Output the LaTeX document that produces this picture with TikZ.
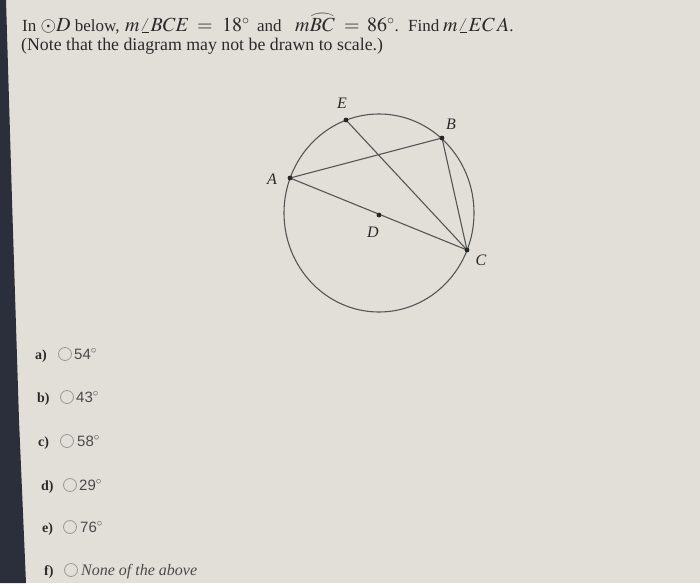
\documentclass[tikz,border=0pt]{standalone}
\usepackage{amsmath}
\usepackage{mathptmx}
\usepackage{graphicx}
\usepackage{fontspec}
\setmainfont{Liberation Serif}
\newfontfamily\optsans{Liberation Sans}
\DeclareMathSizes{17}{20}{14}{10}
\newcommand{\arcBC}{\vbox{\offinterlineskip\halign{\hfil##\hfil\cr\resizebox{1.5em}{0.3em}{$\frown$}\cr\noalign{\kern0.3pt}$BC$\cr}}}
\newcommand{\seg}[2]{\makebox[#1pt][l]{#2}}
\definecolor{paper}{HTML}{E2DFD9}
\definecolor{edge}{HTML}{2B2E3B}
\definecolor{ink}{HTML}{2A2A2A}
\definecolor{geo}{HTML}{555555}
\tikzset{
  txt/.style={anchor=base west, inner sep=0pt, text=ink},
  lbl/.style={inner sep=0pt, text=ink, font=\fontsize{16}{18}\selectfont\itshape},
  seg/.style={draw=geo, line width=1.1pt},
  radio/.style={draw=gray!80, line width=0.8pt, circle, minimum size=13pt, inner sep=0pt},
  optlbl/.style={anchor=base west, inner sep=0pt, text=ink, font=\fontsize{14}{16}\selectfont\bfseries},
  optval/.style={anchor=base west, inner sep=0pt, text=ink!85, font=\fontsize{15}{17}\selectfont\optsans},
}
\begin{document}
\begin{tikzpicture}[x=1pt,y=-1pt]
\useasboundingbox (0,0) rectangle (700,583);
\fill[paper] (0,0) rectangle (700,583);
\fill[edge] (0,0) -- (6,0) -- (12,200) -- (19,420) -- (26,583) -- (0,583) -- cycle;
% title
\node[txt, font=\fontsize{17}{20}\selectfont] (t1) at (22,32) {\seg{103}{In $\odot D$ below,}\seg{72}{$m\angle BCE$}\seg{25}{$=$}\seg{35}{$18^\circ$}\seg{38}{and}\seg{49}{$m\arcBC$}\seg{23}{$=$}\seg{41}{$86^\circ$.}\seg{35}{Find}$m\angle EC\,A$.};
\node[txt, font=\fontsize{17.8}{20}\selectfont] (t2) at (21,51) {(Note that the diagram may not be drawn to scale.)};
% diagram
\coordinate (A) at (290,178);
\coordinate (B) at (442,138);
\coordinate (C) at (467,250);
\coordinate (D) at (379,215);
\coordinate (E) at (346,120);
\coordinate (O) at (379,213);
\draw[seg] (O) ellipse [x radius=95, y radius=99];
\draw[seg] (A) -- (B);
\draw[seg] (A) -- (C);
\draw[seg] (E) -- (C);
\draw[seg] (B) -- (C);
\foreach \p in {A,B,C,D,E} \fill[black!85] (\p) circle (2.4);
\node[lbl] (lE) at (342,103) {E};
\node[lbl] (lB) at (451,124) {B};
\node[lbl] (lA) at (272,179) {A};
\node[lbl] (lD) at (373,232) {D};
\node[lbl] (lC) at (481,260) {C};
% options
\node[optlbl] (oa) at (35,359) {a)};
\node[radio] (ra) at (65,354) {};
\node[optval] (va) at (74,359) {54$^\circ$};
\node[optlbl] (ob) at (37,402) {b)};
\node[radio] (rb) at (67,397) {};
\node[optval] (vb) at (76,402) {43$^\circ$};
\node[optlbl] (oc) at (38,446) {c)};
\node[radio] (rc) at (67,441) {};
\node[optval] (vc) at (77,446) {58$^\circ$};
\node[optlbl] (od) at (41,490) {d)};
\node[radio] (rd) at (70,485) {};
\node[optval] (vd) at (79,490) {29$^\circ$};
\node[optlbl] (oe) at (42,532) {e)};
\node[radio] (re) at (70,527) {};
\node[optval] (ve) at (80,532) {76$^\circ$};
\node[optlbl] (of) at (44,575) {f)};
\node[radio] (rf) at (71,570) {};
\node[anchor=base west, inner sep=0pt, text=ink!85, font=\fontsize{16}{18}\selectfont\itshape] (vf) at (81,575) {None of the above};
\end{tikzpicture}
\end{document}
